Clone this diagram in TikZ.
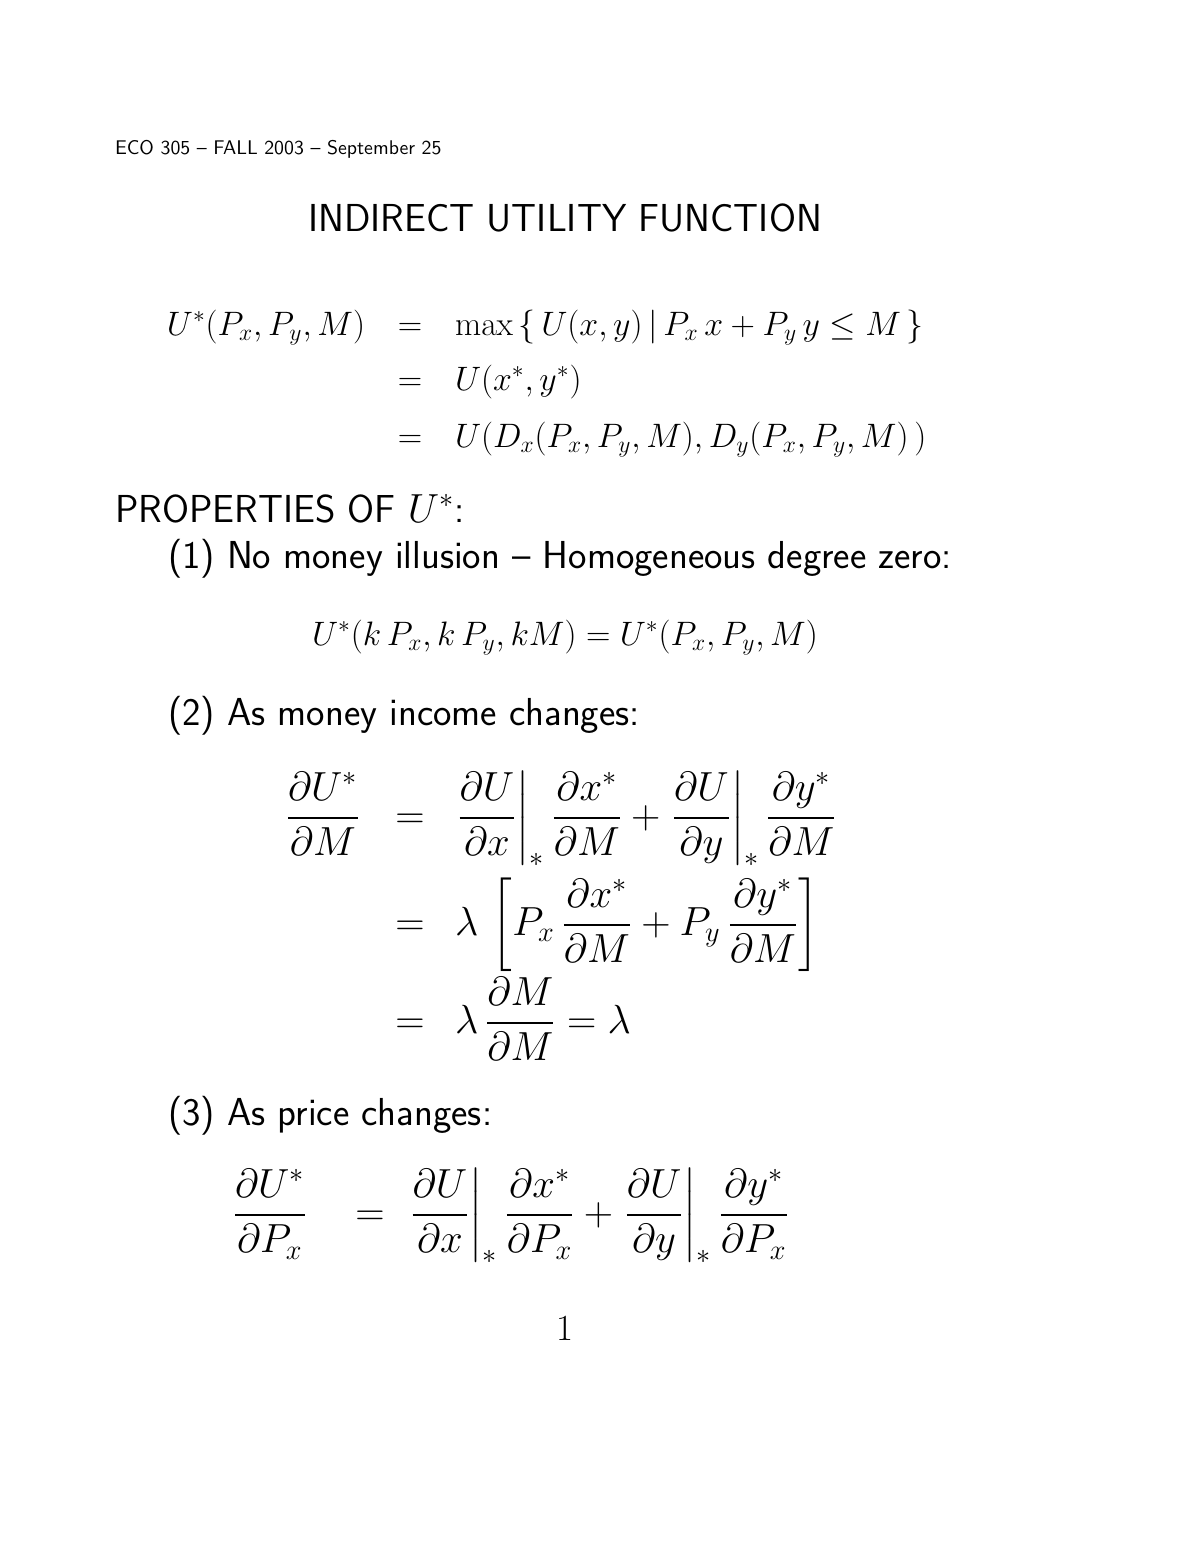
\documentclass[tikz,border=0pt]{standalone}
\usepackage{amsmath,amssymb}
\begin{document}
\begin{tikzpicture}[x=0.51pt,y=-0.51pt,
  every node/.style={inner sep=0pt,outer sep=0pt},
  body/.style={font=\fontsize{19.9}{24}\selectfont\sffamily},
  mth/.style={font=\fontsize{19.9}{24}\selectfont},
  mths/.style={font=\fontsize{18.8}{23}\selectfont}]
\useasboundingbox (0,0) rectangle (1200,1553);
\node[anchor=base west,font=\fontsize{10.1}{12}\selectfont\sffamily] (hdr) at (115,155) {ECO 305 -- FALL 2003 -- September 25};
\node[body,anchor=base] (title) at (565,232) {INDIRECT UTILITY FUNCTION};
% eq 1
\node[mths,anchor=base east] (l1) at (365,335) {$U^*(P_x,P_y,M)$};
\node[mths,anchor=base] (e1) at (410,335) {$=$};
\node[mths,anchor=base west] (r1) at (455,335) {$\max\,\{\,U(x,y)\,|\,P_x\,x+P_y\,y\le M\,\}$};
\node[mths,anchor=base] (e2) at (410,390) {$=$};
\node[mths,anchor=base west] (r2) at (455,390) {$U(x^*,y^*)$};
\node[mths,anchor=base] (e3) at (410,447) {$=$};
\node[mths,anchor=base west] (r3) at (455,447) {$U(D_x(P_x,P_y,M),D_y(P_x,P_y,M)\,)$};
\node[body,anchor=base west] (prop) at (115,522) {PROPERTIES OF $U^*$:};
\node[body,anchor=base west] (p1) at (168,568) {(1) No money illusion -- Homogeneous degree zero:};
\node[mths,anchor=base] (hom) at (565,645) {$U^*(k\,P_x,k\,P_y,kM)=U^*(P_x,P_y,M)$};
\node[body,anchor=base west] (p2) at (168,725) {(2) As money income changes:};
% eq 2
\node[mth,anchor=base east] (l4) at (360,828) {$\displaystyle\frac{\partial U^*}{\partial M}$};
\node[mth,anchor=base] (e4) at (410,828) {$=$};
\node[mth,anchor=base west] (r4) at (455,828) {$\displaystyle\left.\frac{\partial U}{\partial x}\right|_{*}\frac{\partial x^*}{\partial M}+\left.\frac{\partial U}{\partial y}\right|_{*}\frac{\partial y^*}{\partial M}$};
\node[mth,anchor=base] (e5) at (410,935) {$=$};
\node[mth,anchor=base west] (r5) at (455,935) {$\displaystyle\lambda\,\left[P_x\,\frac{\partial x^*}{\partial M}+P_y\,\frac{\partial y^*}{\partial M}\right]$};
\node[mth,anchor=base] (e6) at (410,1033) {$=$};
\node[mth,anchor=base west] (r6) at (455,1033) {$\displaystyle\lambda\,\frac{\partial M}{\partial M}=\lambda$};
\node[body,anchor=base west] (p3) at (168,1125) {(3) As price changes:};
% eq 3
\node[mth,anchor=base east] (l7) at (307,1225) {$\displaystyle\frac{\partial U^*}{\partial P_x}$};
\node[mth,anchor=base] (e7) at (370,1225) {$=$};
\node[mth,anchor=base west] (r7) at (408,1225) {$\displaystyle\left.\frac{\partial U}{\partial x}\right|_{*}\frac{\partial x^*}{\partial P_x}+\left.\frac{\partial U}{\partial y}\right|_{*}\frac{\partial y^*}{\partial P_x}$};
\node[mths,anchor=base] (pg) at (565,1340) {1};
\end{tikzpicture}
\end{document}
